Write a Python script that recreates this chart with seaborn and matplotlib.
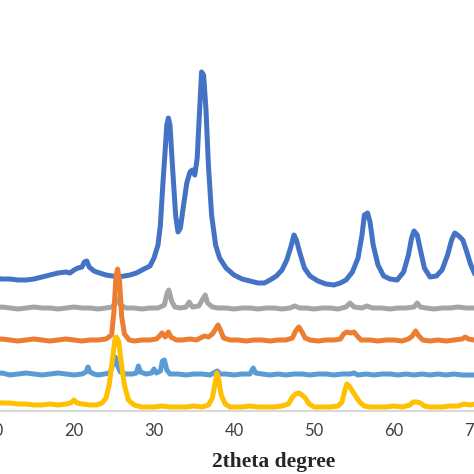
import pandas as pd
import numpy as np
import matplotlib
matplotlib.use("Agg")
import matplotlib.pyplot as plt
import seaborn as sns

#XRD patterns: (2theta, intensity a.u.)
zno_np = [(10,133),(11,132),(12,132),(13,131),(14,131),(15,132),(16,134),(17,136),(18,138),(19,139),
          (19.5,138),(20,141),(20.5,143),(21.0,144),(21.3,149),(21.6,150),(21.9,144),(22.5,140),(23.2,138),
          (24,136),(24.8,135),(25.5,134),(26.3,135),(27,136),(27.8,138),(28.5,141),(29,143),(29.5,145),
          (30,153),(30.5,166),(30.8,186),(31.1,226),(31.4,261),(31.6,286),(31.8,293),(32.0,286),(32.3,246),
          (32.7,196),(33.0,179),(33.3,183),(33.7,206),(34.1,228),(34.5,239),(34.8,241),(35.1,236),(35.4,253),
          (35.7,301),(35.95,339),(36.2,336),(36.5,301),(36.8,246),(37.2,196),(37.7,166),(38.2,153),(39,143),
          (40,136),(41,132),(42,130),(43,128),(43.8,128),(44.5,131),(45.3,135),(46,141),(46.6,151),(47.1,164),
          (47.5,176),(47.8,171),(48.2,159),(48.8,143),(49.5,135),(50.5,130),(51.5,127),(52.5,126),(53.3,128),
          (54,131),(54.8,139),(55.5,153),(56.0,176),(56.3,196),(56.7,198),(57.0,189),(57.4,166),(58.0,146),
          (58.7,135),(59.5,132),(60.4,131),(61.2,139),(61.8,156),(62.2,173),(62.5,180),(62.9,176),(63.3,161),
          (63.8,143),(64.5,134),(65.3,135),(66,141),(66.7,156),(67.2,171),(67.6,178),(68.1,175),(68.6,171),
          (69.1,159),(69.6,146),(70.1,137),(70.8,132),(72,130),(74,131),(76,132),(78,131),(80,132)]

gray_pattern = [(10,103),(11,104),(12,103),(13,102),(14,103),(15,104),(16,103),(17,103),(18,102),(19,103),
                (20,104),(21,103),(22,103),(23,102),(24,103),(24.8,104),(25.2,109),(25.45,112),(25.8,106),
                (26.5,103),(27.5,103),(28.5,102),(29.5,103),(30.5,103),(31.3,106),(31.6,117),(31.85,121),
                (32.2,110),(32.6,104),(33.3,103),(34.0,104),(34.4,109),(34.8,104),(35.6,105),(36.1,112),
                (36.4,116),(36.7,108),(37.3,104),(38,103),(39,103),(40,102),(41,103),(42,103),(43,102),(44,103),
                (45,103),(46,102),(47,103),(47.6,105),(48.2,103),(49,103),(50,102),(51,103),(52,103),(53,102),
                (54.0,104),(54.5,108),(55,104),(56,103),(56.6,105),(57.3,103),(58.5,103),(59.5,102),(60.5,103),
                (61.5,103),(62.5,104),(62.9,108),(63.3,104),(64,103),(65,102),(66,103),(67,103),(68,104),
                (69,103),(70,103),(72,102),(74,103),(76,103),(78,102),(80,103)]

lightblue_pattern = [(10,37),(11,38),(12,36),(13,37),(14,38),(15,37),(16,36),(17,37),(18,38),(19,37),(20,36),
                     (21,37),(21.5,39),(21.75,44),(22.0,39),(22.5,37),(23,36),(23.8,37),(24.5,38),(24.9,48),
                     (25.15,54),(25.4,46),(25.8,39),(26.5,37),(27.3,37),(27.8,38),(28.05,45),(28.3,39),(29,37),
                     (29.7,38),(30.0,42),(30.3,38),(30.8,40),(31.05,50),(31.3,51),(31.6,41),(32,37),(33,37),
                     (34,36),(35,37),(36,37),(37,36),(37.9,40),(38.3,37),(39,37),(40,36),(41,37),(42,37),
                     (42.4,43),(42.7,38),(43.5,37),(44.5,36),(45.5,37),(46.5,36),(47.5,37),(48.5,37),(49.5,36),
                     (50.5,37),(51.5,37),(52.5,36),(53.5,37),(54.5,37),(55,38),(55.5,36),(56.5,37),(57.5,36),
                     (58.5,37),(59.5,37),(60.5,36),(61.5,37),(62.5,36),(63.5,37),(64.5,36),(65.5,37),(66.5,36),
                     (67.5,37),(68.5,36),(69.5,36),(70.5,36),(72,37),(74,36),(76,37),(78,36),(80,37)]

orange_pattern = [(10,71),(11,72),(12,71),(13,70),(14,71),(15,72),(16,71),(17,70),(18,71),(19,72),(20,71),
                  (21,70),(22,71),(23,71),(24,72),(24.7,76),(25.0,100),(25.25,135),(25.45,142),(25.7,130),
                  (25.95,95),(26.3,77),(26.9,71),(27.5,70),(28.5,71),(29.5,71),(30.3,72),(30.7,75),(31.0,78),
                  (31.4,74),(31.8,79),(32.1,74),(32.8,71),(33.5,71),(34.5,72),(35.3,71),(35.8,73),(36.3,75),
                  (36.8,74),(37.3,77),(37.7,82),(38.0,86),(38.3,81),(38.7,73),(39.5,71),(40.5,71),(41.5,70),
                  (42.5,71),(43.5,71),(44.5,70),(45.5,71),(46.5,71),(47.3,73),(47.7,80),(48.1,84),(48.5,79),
                  (48.9,73),(49.5,71),(50.5,70),(51.5,71),(52.5,71),(53.3,72),(53.7,77),(54.1,79),(54.6,78),
                  (55.0,79),(55.4,75),(55.9,71),(57,71),(58,70),(59,71),(60,71),(61,70),(61.8,72),(62.3,75),
                  (62.7,80),(63.1,75),(63.6,71),(64.5,70),(65.5,71),(66.5,70),(67.5,71),(68.5,72),(68.9,74),
                  (69.3,72),(70,71),(72,71),(74,70),(76,71),(78,71),(80,70)]

yellow_pattern = [(10,9),(11,8),(12,8),(13,7),(14,7),(15,6),(16,6),(17,7),(18,6),(19,7),(19.6,8),(20,11),
                  (20.4,8),(21,7),(22,6),(22.8,6),(23.5,8),(24.0,13),(24.4,26),(24.8,51),(25.1,71),(25.3,74),
                  (25.6,69),(25.9,49),(26.3,26),(26.8,11),(27.5,6),(28.5,4),(30,4),(31,5),(32,4),(33,4),(34,4),
                  (35,5),(36,4),(36.8,6),(37.3,13),(37.6,26),(37.85,38),(38.1,31),(38.4,16),(38.9,7),(39.5,4),
                  (41,4),(42,5),(43,4),(44,4),(45,4),(46,5),(46.8,7),(47.3,14),(47.7,17),(48.1,18),(48.5,16),
                  (48.9,13),(49.4,7),(50,4),(51,4),(52,4),(53,5),(53.5,9),(53.8,19),(54.1,27),(54.4,25),
                  (54.8,20),(55.2,15),(55.7,9),(56.3,5),(57,4),(58,4),(59,4),(60,5),(61,4),(62,6),(62.4,9),
                  (62.8,9),(63.3,8),(63.8,5),(64.5,4),(66,4),(67,5),(68,5),(68.8,7),(69.5,6),(70.2,7),(71,6),
                  (72,7),(74,7),(76,8),(78,7),(80,7)]

x_ticks = [10, 20, 30, 40, 50, 60, 70, 80]

#Build one long table, drawn in the order Excel used
series = [("s1", zno_np, "#4472C4"),
          ("s2", gray_pattern, "#A5A5A5"),
          ("s3", lightblue_pattern, "#5B9BD5"),
          ("s4", orange_pattern, "#ED7D31"),
          ("s5", yellow_pattern, "#FFC000")]

frames = []
for name, pts, col in series:
    d = pd.DataFrame(pts, columns=["two_theta", "intensity"])
    d["sample"] = name
    frames.append(d)
df = pd.concat(frames, ignore_index=True)

sns.set_style("white")

fig = plt.figure(figsize=(4.74, 4.74), dpi=100)
ax = fig.add_axes([-6/474, 63/474, 560/474, 411/474])

for name, pts, col in series:
    sns.lineplot(data=df[df["sample"] == name], x="two_theta", y="intensity",
                 color=col, linewidth=3.6, sort=False, estimator=None, ax=ax)

ax.set_xlim(10, 80)
ax.set_ylim(0, 411)
ax.set_xticks(x_ticks)
ax.set_xticklabels([str(t) for t in x_ticks], fontsize=12, color="#404040", family="Lato")
ax.set_yticks([])
ax.tick_params(axis="x", length=0, pad=9)
ax.set_ylabel("")
ax.set_xlabel("2theta degree", family="Liberation Serif", fontweight="bold", fontsize=15.5, labelpad=9)

for s in ["top", "left", "right"]:
    ax.spines[s].set_visible(False)
ax.spines["bottom"].set_color("#D9D9D9")
ax.spines["bottom"].set_linewidth(1.5)

fig.savefig("out.png", dpi=100)
